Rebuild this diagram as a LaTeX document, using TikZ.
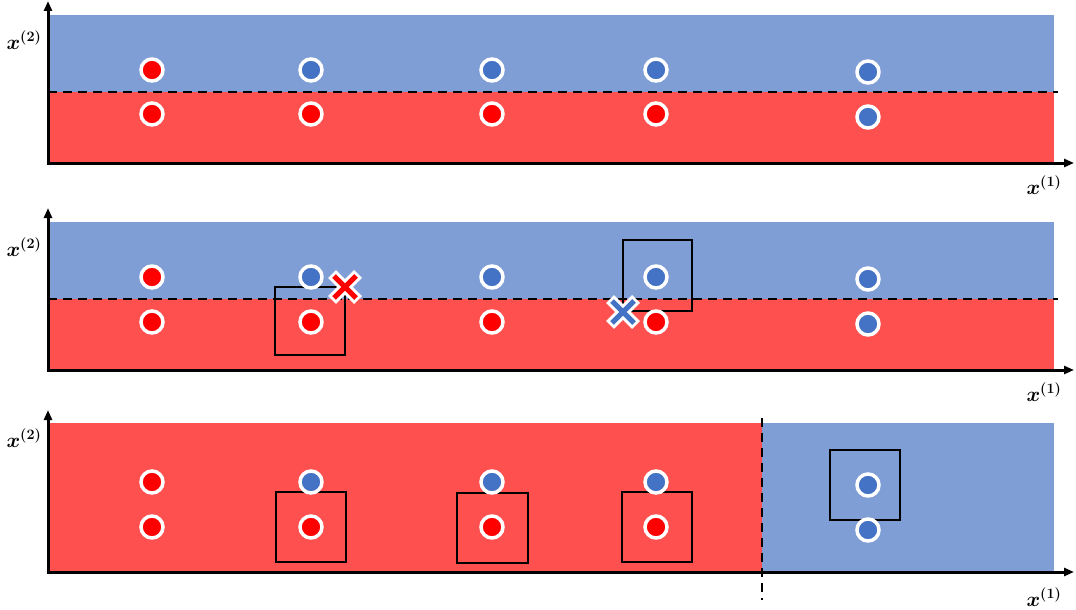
\documentclass[tikz,border=0pt]{standalone}
\usepackage{amsmath,bm}
\usetikzlibrary{arrows.meta}
\definecolor{bgB}{HTML}{7F9ED6}
\definecolor{bgR}{HTML}{FF5050}
\definecolor{dB}{HTML}{4472C4}
\definecolor{dR}{HTML}{FF0000}
\begin{document}
\begin{tikzpicture}[x=1pt,y=-1pt,
  pt/.style={circle,draw=white,line width=3.5pt,minimum size=22pt,inner sep=0pt},
  ptR/.style={pt,fill=dR},ptB/.style={pt,fill=dB},
  axis/.style={line width=3pt,-{Triangle[length=10pt,width=8pt]}},
  dl/.style={dash pattern=on 9pt off 6pt,line width=2.5pt},
  sq/.style={draw=black,line width=2.5pt},
  lab/.style={font=\fontsize{21}{24}\selectfont}]
\useasboundingbox (0,0) rectangle (1076,610);
\newcommand{\xcross}[2]{%
  \draw[white,line width=11pt] (#1)+(-13,-13)--+(13,13) (#1)+(-13,13)--+(13,-13);
  \draw[#2,line width=5pt] (#1)+(-11,-11)--+(11,11) (#1)+(-11,11)--+(11,-11);}
% panel 1
\fill[bgB] (48,15) rectangle (1054,92);
\fill[bgR] (48,92) rectangle (1054,163);
\draw[dl] (48,92) -- (1058,92);
\draw[axis] (48,163) -- (48,1);
\draw[axis] (46.5,163) -- (1074,163);
\node[lab] (l1a) at (1044,185) {$\bm{x^{(1)}}$};
\node[lab] (l1b) at (24,40) {$\bm{x^{(2)}}$};
\node[ptR] (a1) at (152,70) {}; \node[ptB] (a2) at (311,70) {}; \node[ptB] (a3) at (492,70) {}; \node[ptB] (a4) at (656,70) {}; \node[ptB] (a5) at (868,72) {};
\node[ptR] (b1) at (152,114) {}; \node[ptR] (b2) at (311,114) {}; \node[ptR] (b3) at (492,114) {}; \node[ptR] (b4) at (656,114) {}; \node[ptB] (b5) at (868,117) {};
% panel 2
\fill[bgB] (48,222) rectangle (1054,299);
\fill[bgR] (48,299) rectangle (1054,370);
\draw[dl] (48,299) -- (1058,299);
\draw[axis] (48,370) -- (48,208);
\draw[axis] (46.5,370) -- (1074,370);
\node[lab] (l2a) at (1044,392) {$\bm{x^{(1)}}$};
\node[lab] (l2b) at (24,247) {$\bm{x^{(2)}}$};
\draw[sq] (275,287) rectangle (345,355);
\draw[sq] (623,240) rectangle (692,311);
\node[ptR] (c1) at (152,277) {}; \node[ptB] (c2) at (311,277) {}; \node[ptB] (c3) at (492,277) {}; \node[ptB] (c4) at (656,277) {}; \node[ptB] (c5) at (868,279) {};
\node[ptR] (d1) at (152,322) {}; \node[ptR] (d2) at (311,322) {}; \node[ptR] (d3) at (492,322) {}; \node[ptR] (d4) at (656,322) {}; \node[ptB] (d5) at (868,324) {};
\coordinate (xr) at (345,287); \coordinate (xb) at (623,312);
\xcross{xr}{dR}
\xcross{xb}{dB}
% panel 3
\fill[bgR] (48,423) rectangle (762,572);
\fill[bgB] (762,423) rectangle (1054,572);
\draw[dl] (762,418) -- (762,600);
\draw[axis] (48,572) -- (48,410);
\draw[axis] (46.5,572) -- (1074,572);
\node[lab] (l3a) at (1044,597) {$\bm{x^{(1)}}$};
\node[lab] (l3b) at (24,438) {$\bm{x^{(2)}}$};
\draw[sq] (276,492) rectangle (346,562);
\draw[sq] (457,493) rectangle (528,563);
\draw[sq] (622,492) rectangle (692,562);
\draw[sq] (830,450) rectangle (900,520);
\node[ptR] (e1) at (152,482) {}; \node[ptB] (e2) at (311,482) {}; \node[ptB] (e3) at (492,482) {}; \node[ptB] (e4) at (656,482) {}; \node[ptB] (e5) at (868,485) {};
\node[ptR] (f1) at (152,527) {}; \node[ptR] (f2) at (311,527) {}; \node[ptR] (f3) at (492,527) {}; \node[ptR] (f4) at (656,527) {}; \node[ptB] (f5) at (868,530) {};
\end{tikzpicture}
\end{document}
